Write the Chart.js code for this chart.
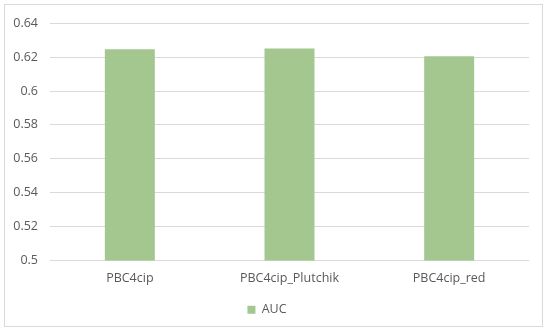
<!DOCTYPE html>
<html>
<head>
<meta charset="utf-8">
<script src="https://cdn.jsdelivr.net/npm/chart.js@4"></script>
<style>
  body { margin: 0; background: #fff; }
  #wrap { position: absolute; left: 4px; top: 4px; width: 537px; height: 321px; border: 1px solid #d9d9d9; }
</style>
</head>
<body>
<div id="wrap"><canvas id="aucGraph" width="537" height="321"></canvas></div>
<script>
// Data
const categories = ['PBC4cip', 'PBC4cip_Plutchik', 'PBC4cip_red'];
const aucValues = [0.6247, 0.6251, 0.6206];
const yTicks = [0.5, 0.52, 0.54, 0.56, 0.58, 0.6, 0.62, 0.64];

new Chart(document.getElementById('aucGraph'), {
    type: 'bar',
    data: {
        labels: categories,
        datasets: [{
            label: 'AUC',
            data: aucValues,
            backgroundColor: '#a3c78f',
            barPercentage: 0.313,
            categoryPercentage: 1
        }]
    },
    options: {
        responsive: false,
        animation: false,
        layout: { padding: { left: 0, right: 13, top: 6, bottom: 0 } },
        scales: {
            x: {
                grid: { display: false },
                border: { display: false },
                ticks: { color: '#595959', font: { family: 'Open Sans', size: 12.5 }, padding: 2 }
            },
            y: {
                min: 0.5,
                max: 0.64,
                afterFit: axis => { axis.width = 45; },
                afterBuildTicks: axis => { axis.ticks = yTicks.map(v => ({ value: v })); },
                grid: { color: '#d9d9d9', drawTicks: false },
                border: { display: false },
                ticks: {
                    color: '#595959',
                    font: { family: 'Open Sans', size: 12.5, lineHeight: 1 },
                    padding: 12,
                    callback: v => String(+v.toFixed(2))
                }
            }
        },
        plugins: {
            legend: {
                display: true,
                position: 'bottom',
                labels: { color: '#595959', font: { family: 'Open Sans', size: 12.5 }, boxWidth: 8, boxHeight: 8, padding: 16 }
            },
            tooltip: { enabled: false }
        }
    }
});
</script>
</body>
</html>
